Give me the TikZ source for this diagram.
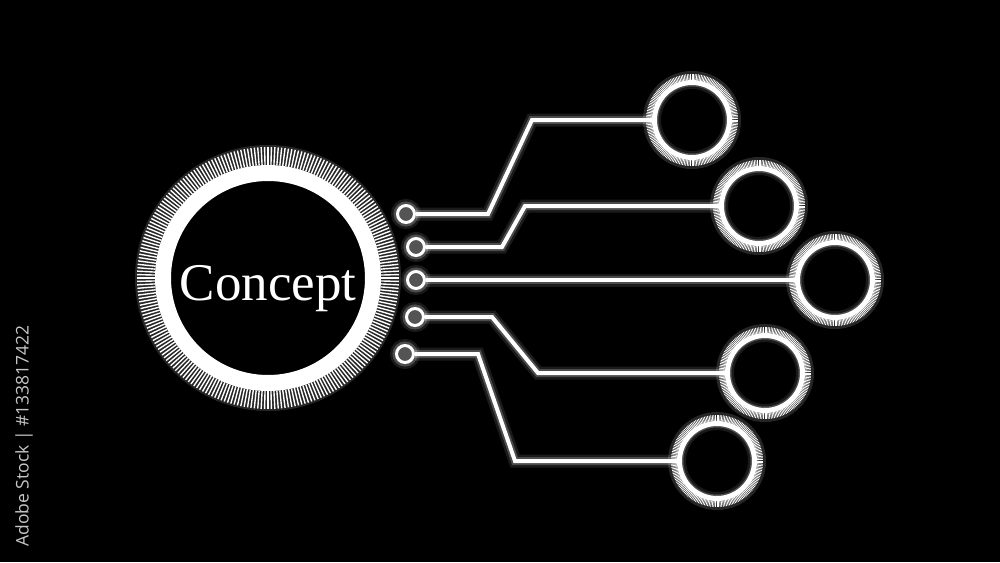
\documentclass[tikz,border=0pt]{standalone}
\usepackage{fontspec}
\setmainfont{Liberation Serif}
\newfontfamily\stampfont{Open Sans}
\usepackage{tikz}

\begin{document}
\begin{tikzpicture}[x=1pt, y=-1pt,
    glow/.style={preaction={draw, white, opacity=.1, line width=13pt},
                 preaction={draw, white, opacity=.22, line width=8pt}},
    wire/.style={draw=white, line width=4pt, glow},
    port/.style={circle, draw=white, fill=white!33!black, line width=3pt,
                 minimum size=17pt, inner sep=0pt, glow},
    leaf/.style={circle, draw=white, line width=5pt, minimum size=75pt,
                 inner sep=0pt, glow},
    hub/.style={circle, draw=white, line width=16pt, minimum size=210pt,
                inner sep=0pt, glow},
    tick/.style={white, line width=.8pt}]
             \fill[black] (0,0) rectangle (1000,562);
             \useasboundingbox (0,0) rectangle (1000,562);

             \node[hub] (hub) at (268,278) {};
             \node[white, anchor=base, font=\fontsize{53}{60}\selectfont] (title) at (268,300) {Concept};
             \draw[white, opacity=.15, line width=22pt] (hub.center) circle (122);
             \foreach \a in {0,1.5,...,358.5}
               \draw[tick, line width=1.4pt] ([shift={(\a:113)}]hub.center) -- ([shift={(\a:131)}]hub.center);

             \node[port] (p1) at (406,214) {};
             \node[port] (p2) at (416,247) {};
             \node[port] (p3) at (416,280) {};
             \node[port] (p4) at (415,317) {};
             \node[port] (p5) at (405,354) {};

             \node[leaf] (c1) at (692,120) {};
             \node[leaf] (c2) at (759,206) {};
             \node[leaf] (c3) at (835,280) {};
             \node[leaf] (c4) at (765,373) {};
             \node[leaf] (c5) at (717,461) {};

             \foreach \c in {c1,c2,c3,c4,c5} {
               \draw[white, opacity=.15, line width=12pt] (\c.center) circle (43);
               \foreach \a in {0,2,...,358}
                 \draw[tick] ([shift={(\a:40)}]\c.center) -- ([shift={(\a:46)}]\c.center);
             }

             \draw[wire] (p1) -- (488,214) -- (532,120) -- (c1);
             \draw[wire] (p2) -- (502,247) -- (525,206) -- (c2);
             \draw[wire] (p3) -- (c3);
             \draw[wire] (p4) -- (492,317) -- (538,373) -- (c4);
             \draw[wire] (p5) -- (478,354) -- (515,461) -- (c5);

             \node[rotate=90, text=white!78!black, font=\stampfont\fontsize{17.5}{20}\selectfont] (stamp) at (24,436) {Adobe Stock | \#133817422};
\end{tikzpicture}
\end{document}
